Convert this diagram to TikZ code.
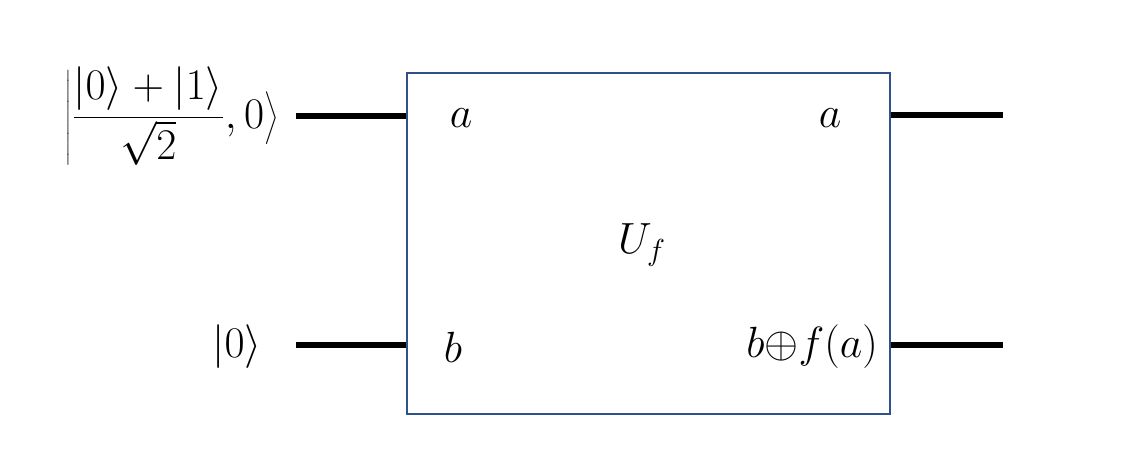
\documentclass[tikz,border=0pt]{standalone}
\usetikzlibrary{positioning}
\definecolor{boxblue}{RGB}{47,82,143}

\begin{document}
\begin{tikzpicture}[x=0.02cm,y=-0.02cm,
  font=\fontsize{23}{28}\selectfont,
  wire/.style={line width=3pt},
  gate/.style={draw=boxblue,line width=0.8pt,minimum width=9.66cm,minimum height=6.82cm,inner sep=0pt}]
\useasboundingbox (0,0) rectangle (1134,472);
\node[gate] (uf) at (648.5,243.5) {};
\node (ulabel) at (642,245) {$U_f$};
% box ports
\node (ain) at (461,118) {$a$};
\node (bin) at (453,347) {$b$};
\node (aout) at (830,118) {$a$};
\node[anchor=east] (bout) at (884,347) {$b{\oplus}f(a)$};
% inputs
\node (qin1) at (172,116) {$\displaystyle\left|\frac{|0\rangle+|1\rangle}{\sqrt{2}},0\right\rangle$};
\node (qin2) at (237,347) {$|0\rangle$};
\coordinate (w1) at (296,116);
\coordinate (w2) at (296,345);
\coordinate (o1) at (1003,115);
\coordinate (o2) at (1003,345);
\draw[wire] (w1) -- (uf.west |- w1);
\draw[wire] (w2) -- (uf.west |- w2);
\draw[wire] (uf.east |- o1) -- (o1);
\draw[wire] (uf.east |- o2) -- (o2);
\end{tikzpicture}
\end{document}
